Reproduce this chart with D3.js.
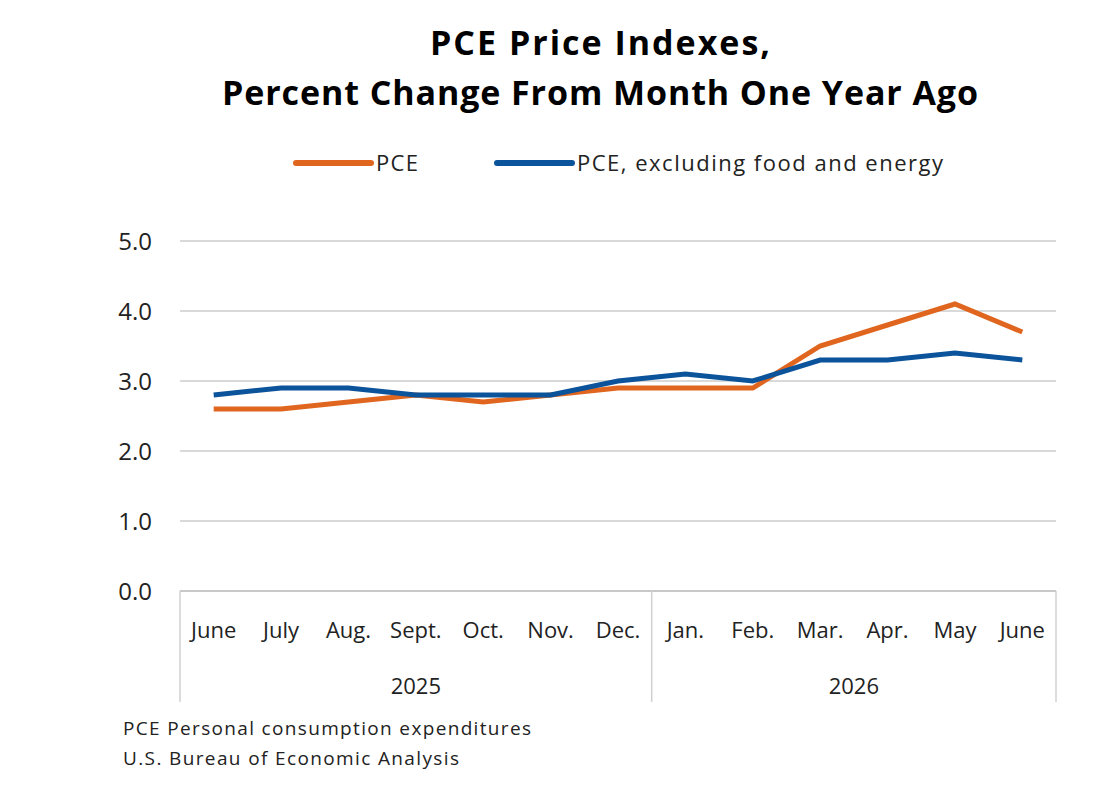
<!DOCTYPE html>
<html><head><meta charset="utf-8">
<script src="https://cdn.jsdelivr.net/npm/d3@7"></script>
<style>body{margin:0;background:#fff;font-family:"Open Sans",sans-serif;}</style>
</head><body><div id="container"></div>
<script>
const months = ["June","July","Aug.","Sept.","Oct.","Nov.","Dec.","Jan.","Feb.","Mar.","Apr.","May","June"];
const years = [{label: "2025", start: 0, end: 7}, {label: "2026", start: 7, end: 13}];
const pce = [2.6, 2.6, 2.7, 2.8, 2.7, 2.8, 2.9, 2.9, 2.9, 3.5, 3.8, 4.1, 3.7];
const core = [2.8, 2.9, 2.9, 2.8, 2.8, 2.8, 3.0, 3.1, 3.0, 3.3, 3.3, 3.4, 3.3];
const yTicks = [0, 1, 2, 3, 4, 5];

const WIDTH = 1093, HEIGHT = 790;
const margin = {top: 241, left: 180, right: 37, bottom: 199};
const width = WIDTH - margin.left - margin.right,
      height = HEIGHT - margin.top - margin.bottom;

const svg = d3.select('#container').append('svg').attr("width", WIDTH).attr("height", HEIGHT);

svg.append("text").attr("x", 600).attr("y", 55).attr("text-anchor", "middle")
   .style("font-size", "34px").style("font-weight", "bold").attr("textLength", 340).text("PCE Price Indexes,");
svg.append("text").attr("x", 600).attr("y", 105).attr("text-anchor", "middle")
   .style("font-size", "34px").style("font-weight", "bold").attr("textLength", 756).text("Percent Change From Month One Year Ago");

const legend = [{name: "PCE", color: "#e0661f", x: 296, w: 42}, {name: "PCE, excluding food and energy", color: "#0b539a", x: 497, w: 366}];
legend.forEach(l => {
  svg.append("line").attr("x1", l.x).attr("x2", l.x + 75).attr("y1", 163).attr("y2", 163)
     .attr("stroke", l.color).attr("stroke-width", 6).attr("stroke-linecap", "round");
  svg.append("text").attr("x", l.x + 80).attr("y", 171).style("font-size", "22px")
     .attr("textLength", l.w).attr("fill", "#222").text(l.name);
});

const g = svg.append('g').attr("transform", `translate(${margin.left},${margin.top})`);
const x = d3.scaleBand().domain(d3.range(months.length)).range([0, width]);
const y = d3.scaleLinear().domain([0, 5]).range([height, 0]);

g.selectAll(".grid").data(yTicks).join("line")
  .attr("x1", 0).attr("x2", width).attr("y1", d => y(d)).attr("y2", d => y(d))
  .attr("stroke", d => d === 0 ? "#c8c8c8" : "#d9d9d9").attr("stroke-width", 2);
g.selectAll(".yl").data(yTicks).join("text")
  .attr("x", -28).attr("y", d => y(d) + 9).attr("text-anchor", "end")
  .style("font-size", "24px").attr("fill", "#222").text(d => d.toFixed(1));

const axY = height + 111;
[0, 7, 13].forEach(i => g.append("line").attr("x1", x(i) ?? width).attr("x2", x(i) ?? width)
  .attr("y1", height).attr("y2", axY).attr("stroke", "#d0d0d0").attr("stroke-width", 1.5));
g.selectAll(".xl").data(months).join("text")
  .attr("x", (d, i) => x(i) + x.bandwidth() / 2).attr("y", height + 47).attr("text-anchor", "middle")
  .style("font-size", "22px").attr("fill", "#222").text(d => d);
g.selectAll(".yr").data(years).join("text")
  .attr("x", d => ((x(d.start)) + (d.end < months.length ? x(d.end) : width)) / 2)
  .attr("y", height + 103).attr("text-anchor", "middle")
  .style("font-size", "22px").attr("fill", "#222").text(d => d.label);

const line = d3.line().x((d, i) => x(i) + x.bandwidth() / 2).y(d => y(d));
g.append("path").datum(pce).attr("d", line).attr("fill", "none").attr("stroke", "#e0661f").attr("stroke-width", 5);
g.append("path").datum(core).attr("d", line).attr("fill", "none").attr("stroke", "#0b539a").attr("stroke-width", 5);

svg.append("text").attr("x", 123).attr("y", 735).style("font-size", "19px").attr("textLength", 408).attr("fill", "#222").text("PCE Personal consumption expenditures");
svg.append("text").attr("x", 123).attr("y", 765).style("font-size", "19px").attr("textLength", 336).attr("fill", "#222").text("U.S. Bureau of Economic Analysis");
</script></body></html>
